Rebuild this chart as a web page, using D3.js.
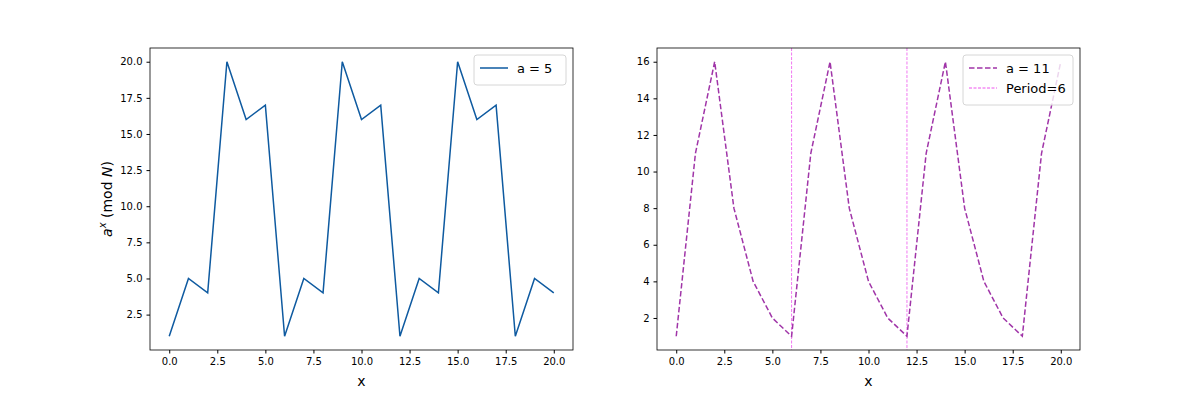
<!DOCTYPE html>
<html><head><meta charset="utf-8">
<script src="https://cdn.jsdelivr.net/npm/d3@7"></script>
<style>body{margin:0;background:#fff}text{font-family:"DejaVu Sans",sans-serif}</style>
</head><body><svg id="c" width="1200" height="400"></svg>
<script>
// values of a^x mod 21
const xs = d3.range(0, 21);
const leftValues = [1,5,4,20,16,17,1,5,4,20,16,17,1,5,4,20,16,17,1,5,4];
const rightValues = [1,11,16,8,4,2,1,11,16,8,4,2,1,11,16,8,4,2,1,11,16];
const periodLines = [6, 12];
const leftTicks = [2.5,5,7.5,10,12.5,15,17.5,20];
const rightTicks = [2,4,6,8,10,12,14,16];
const xTicks = [0,2.5,5,7.5,10,12.5,15,17.5,20];

const svg = d3.select('#c');
const plotTop = 48, plotBottom = 350;

function panel(left, right, values, yTicks, yFmt, color, dash, legend) {
  const x = d3.scaleLinear().domain([-1, 21]).range([left, right]);
  const lo = d3.min(values), hi = d3.max(values), pad = (hi - lo) * 0.05;
  const y = d3.scaleLinear().domain([lo - pad, hi + pad]).range([plotBottom, plotTop]);
  const g = svg.append('g');

  g.append('g').attr('transform', `translate(0,${plotBottom})`)
    .call(d3.axisBottom(x).tickValues(xTicks).tickFormat(d3.format('.1f')).tickSizeOuter(0).tickSize(3.5).tickPadding(4))
    .call(a => { a.select('.domain').remove(); a.selectAll('text').attr('font-size', 10).attr('fill', '#000'); });
  g.append('g').attr('transform', `translate(${left},0)`)
    .call(d3.axisLeft(y).tickValues(yTicks).tickFormat(yFmt).tickSizeOuter(0).tickSize(3.5).tickPadding(4))
    .call(a => { a.select('.domain').remove(); a.selectAll('text').attr('font-size', 10).attr('fill', '#000'); });

  if (legend.period) {
    periodLines.forEach(p => g.append('line')
      .attr('x1', x(p)).attr('x2', x(p)).attr('y1', plotTop).attr('y2', plotBottom)
      .attr('stroke', '#ee55ee').attr('stroke-width', 0.8).attr('stroke-dasharray', '3,1.5'));
  }

  g.append('path').datum(values)
    .attr('d', d3.line().x((d, i) => x(xs[i])).y(d => y(d)))
    .attr('fill', 'none').attr('stroke', color).attr('stroke-width', 1.5)
    .attr('stroke-dasharray', dash);

  g.append('rect').attr('x', left).attr('y', plotTop).attr('width', right - left).attr('height', plotBottom - plotTop)
    .attr('fill', 'none').attr('stroke', '#000').attr('stroke-width', 0.8);

  g.append('text').attr('x', (left + right) / 2).attr('y', 386).attr('text-anchor', 'middle')
    .attr('font-size', 14).text('x');

  // legend
  const rows = legend.period ? [[legend.label, color, '5.5,2.5'], ['Period=6', '#ee55ee', '3,1.5']] : [[legend.label, color, null]];
  const lw = legend.period ? 110 : 92, lh = rows.length * 20 + 10;
  const lx = right - lw - 7, ly = plotTop + 7;
  const lg = g.append('g');
  lg.append('rect').attr('x', lx).attr('y', ly).attr('width', lw).attr('height', lh).attr('rx', 3)
    .attr('fill', 'rgba(255,255,255,0.8)').attr('stroke', '#d6d6d6');
  rows.forEach((r, i) => {
    const cy = ly + 13 + i * 20;
    lg.append('line').attr('x1', lx + 6).attr('x2', lx + 34).attr('y1', cy).attr('y2', cy)
      .attr('stroke', r[1]).attr('stroke-width', i ? 1 : 1.5).attr('stroke-dasharray', r[2]);
    lg.append('text').attr('x', lx + 43).attr('y', cy + 5).attr('font-size', 13).text(r[0]);
  });
  return g;
}

panel(150, 573, leftValues, leftTicks, d3.format('.1f'), '#0e5aa0', null, { label: 'a = 5' });
panel(657, 1080, rightValues, rightTicks, d3.format('d'), '#a035a8', '5.5,2.5', { label: 'a = 11', period: true });

// y label with math
const yl = svg.append('text').attr('transform', 'translate(112,199) rotate(-90)')
  .attr('text-anchor', 'middle').attr('font-size', 14);
yl.append('tspan').attr('font-style', 'italic').text('a');
yl.append('tspan').attr('font-style', 'italic').attr('font-size', 10).attr('dy', -6).text('x');
yl.append('tspan').attr('dy', 6).text(' (mod ');
yl.append('tspan').attr('font-style', 'italic').text('N');
yl.append('tspan').text(')');
</script></body></html>
